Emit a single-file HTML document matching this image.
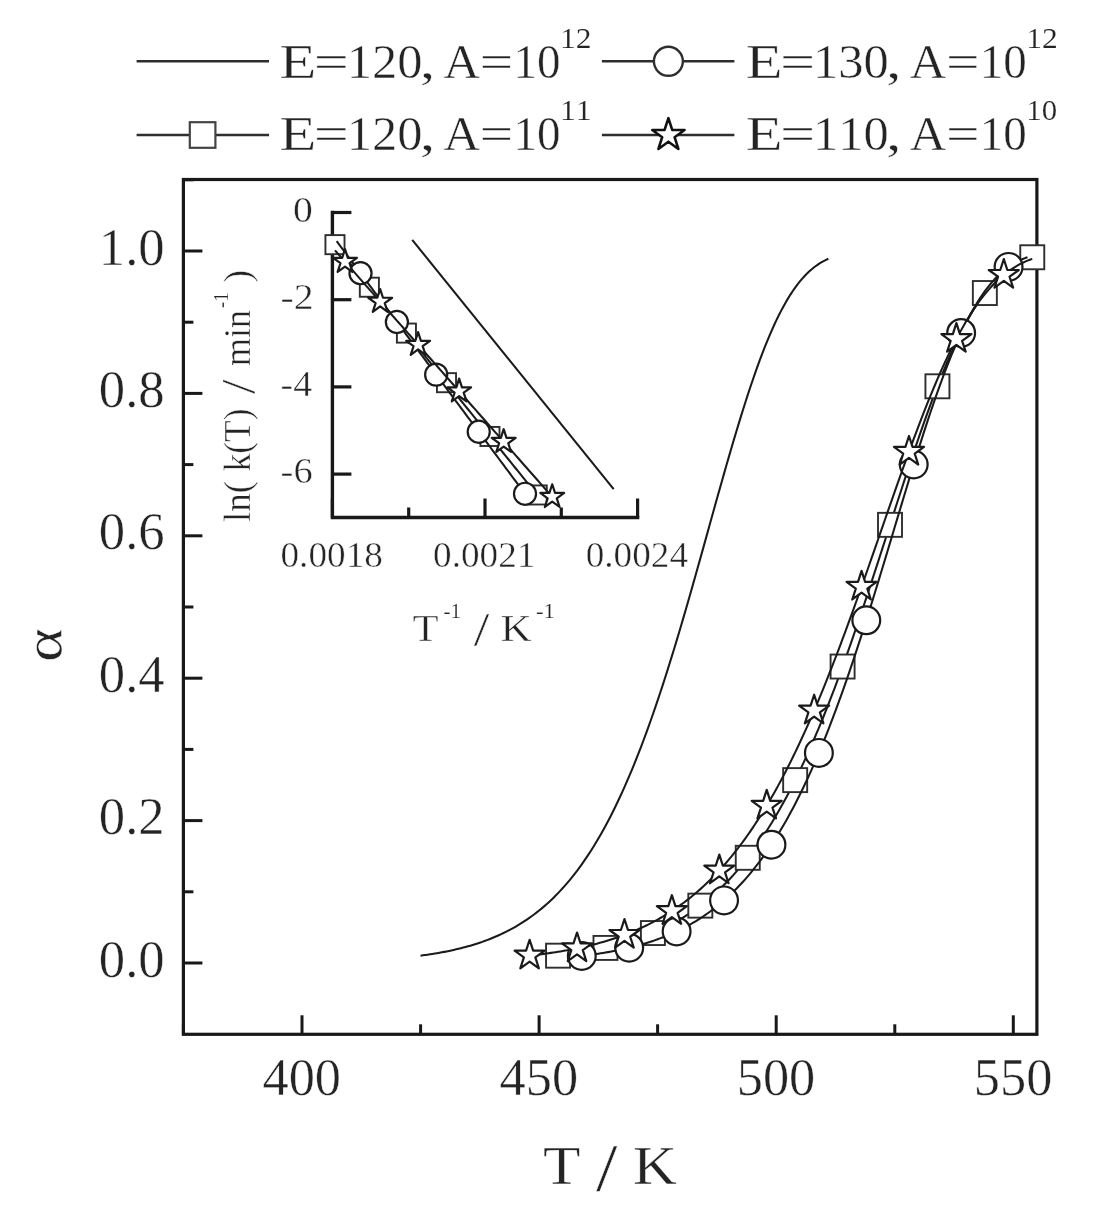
<!DOCTYPE html>
<html><head><meta charset="utf-8"><title>Kinetic curves</title>
<style>html,body{margin:0;padding:0;background:#fff}svg{display:block}</style></head>
<body>
<svg width="1094" height="1216" viewBox="0 0 1094 1216" font-family="Liberation Serif, DejaVu Serif, serif" fill="#242424">
<style>text{stroke:#fff;stroke-width:0.45;paint-order:fill stroke;font-kerning:none}</style>
<rect width="1094" height="1216" fill="#fff"/>
<g stroke="#2e2e2e" stroke-width="2.5">
<line x1="136.6" y1="61.3" x2="269" y2="61.3"/>
<line x1="136.6" y1="135.1" x2="269" y2="135.1"/>
<line x1="601.9" y1="61.3" x2="734.4" y2="61.3"/>
<line x1="601.9" y1="135.1" x2="734.4" y2="135.1"/>
</g>
<rect x="189.8" y="122.2" width="25.6" height="25.6" fill="#fff" stroke="#444" stroke-width="2.2"/>
<circle cx="668.4" cy="61.3" r="14.5" fill="#fff" stroke="#2e2e2e" stroke-width="2.4"/>
<path d="M668.40 118.20 L672.22 129.95 L684.57 129.95 L674.58 137.21 L678.39 148.95 L668.40 141.69 L658.41 148.95 L662.22 137.21 L652.23 129.95 L664.58 129.95Z" fill="#fff" stroke="#111" stroke-width="2.6" stroke-linejoin="round"/>
<text><tspan x="279.25" y="77.70" font-size="48.00" textLength="37.19" lengthAdjust="spacingAndGlyphs">E</tspan><tspan x="313.70" y="77.70" font-size="48.00" textLength="35.15" lengthAdjust="spacingAndGlyphs">=</tspan><tspan x="346.76" y="77.70" font-size="48.00" textLength="75.76" lengthAdjust="spacingAndGlyphs">120</tspan><tspan x="419.68" y="77.70" font-size="48.00" textLength="15.60" lengthAdjust="spacingAndGlyphs">,</tspan> <tspan x="443.41" y="77.70" font-size="48.00" textLength="36.46" lengthAdjust="spacingAndGlyphs">A</tspan><tspan x="479.62" y="77.70" font-size="48.00" textLength="33.69" lengthAdjust="spacingAndGlyphs">=</tspan><tspan x="513.57" y="77.70" font-size="48.00" textLength="47.02" lengthAdjust="spacingAndGlyphs">10</tspan><tspan x="560.03" y="47.50" font-size="28.60" textLength="31.51" lengthAdjust="spacingAndGlyphs" stroke-width="0.15">12</tspan></text>
<text><tspan x="279.25" y="149.80" font-size="48.00" textLength="37.19" lengthAdjust="spacingAndGlyphs">E</tspan><tspan x="313.70" y="149.80" font-size="48.00" textLength="35.15" lengthAdjust="spacingAndGlyphs">=</tspan><tspan x="346.76" y="149.80" font-size="48.00" textLength="75.76" lengthAdjust="spacingAndGlyphs">120</tspan><tspan x="419.68" y="149.80" font-size="48.00" textLength="15.60" lengthAdjust="spacingAndGlyphs">,</tspan> <tspan x="443.41" y="149.80" font-size="48.00" textLength="36.46" lengthAdjust="spacingAndGlyphs">A</tspan><tspan x="479.62" y="149.80" font-size="48.00" textLength="33.69" lengthAdjust="spacingAndGlyphs">=</tspan><tspan x="513.57" y="149.80" font-size="48.00" textLength="47.02" lengthAdjust="spacingAndGlyphs">10</tspan><tspan x="560.01" y="119.60" font-size="28.60" textLength="31.69" lengthAdjust="spacingAndGlyphs" stroke-width="0.15">11</tspan></text>
<text><tspan x="745.55" y="77.70" font-size="48.00" textLength="37.19" lengthAdjust="spacingAndGlyphs">E</tspan><tspan x="780.00" y="77.70" font-size="48.00" textLength="35.15" lengthAdjust="spacingAndGlyphs">=</tspan><tspan x="813.06" y="77.70" font-size="48.00" textLength="75.76" lengthAdjust="spacingAndGlyphs">130</tspan><tspan x="885.98" y="77.70" font-size="48.00" textLength="15.60" lengthAdjust="spacingAndGlyphs">,</tspan> <tspan x="909.71" y="77.70" font-size="48.00" textLength="36.46" lengthAdjust="spacingAndGlyphs">A</tspan><tspan x="945.92" y="77.70" font-size="48.00" textLength="33.69" lengthAdjust="spacingAndGlyphs">=</tspan><tspan x="979.87" y="77.70" font-size="48.00" textLength="47.02" lengthAdjust="spacingAndGlyphs">10</tspan><tspan x="1026.33" y="47.50" font-size="28.60" textLength="31.51" lengthAdjust="spacingAndGlyphs" stroke-width="0.15">12</tspan></text>
<text><tspan x="745.55" y="149.80" font-size="48.00" textLength="37.19" lengthAdjust="spacingAndGlyphs">E</tspan><tspan x="780.00" y="149.80" font-size="48.00" textLength="35.15" lengthAdjust="spacingAndGlyphs">=</tspan><tspan x="813.06" y="149.80" font-size="48.00" textLength="75.76" lengthAdjust="spacingAndGlyphs">110</tspan><tspan x="885.98" y="149.80" font-size="48.00" textLength="15.60" lengthAdjust="spacingAndGlyphs">,</tspan> <tspan x="909.71" y="149.80" font-size="48.00" textLength="36.46" lengthAdjust="spacingAndGlyphs">A</tspan><tspan x="945.92" y="149.80" font-size="48.00" textLength="33.69" lengthAdjust="spacingAndGlyphs">=</tspan><tspan x="979.87" y="149.80" font-size="48.00" textLength="47.02" lengthAdjust="spacingAndGlyphs">10</tspan><tspan x="1026.38" y="119.60" font-size="28.60" textLength="30.89" lengthAdjust="spacingAndGlyphs" stroke-width="0.15">10</tspan></text>
<rect x="183.4" y="179.5" width="853.5" height="854.8" fill="none" stroke="#181818" stroke-width="3.2"/>
<g stroke="#181818" stroke-width="3">
<line x1="183.4" y1="963.0" x2="202.4" y2="963.0"/>
<line x1="183.4" y1="820.6" x2="202.4" y2="820.6"/>
<line x1="183.4" y1="678.2" x2="202.4" y2="678.2"/>
<line x1="183.4" y1="535.8" x2="202.4" y2="535.8"/>
<line x1="183.4" y1="393.4" x2="202.4" y2="393.4"/>
<line x1="183.4" y1="251.0" x2="202.4" y2="251.0"/>
<line x1="183.4" y1="891.8" x2="193.4" y2="891.8"/>
<line x1="183.4" y1="749.4" x2="193.4" y2="749.4"/>
<line x1="183.4" y1="607.0" x2="193.4" y2="607.0"/>
<line x1="183.4" y1="464.6" x2="193.4" y2="464.6"/>
<line x1="183.4" y1="322.2" x2="193.4" y2="322.2"/>
<line x1="183.4" y1="179.8" x2="193.4" y2="179.8"/>
<line x1="302.0" y1="1034.3" x2="302.0" y2="1015.3"/>
<line x1="539.1" y1="1034.3" x2="539.1" y2="1015.3"/>
<line x1="776.2" y1="1034.3" x2="776.2" y2="1015.3"/>
<line x1="1013.3" y1="1034.3" x2="1013.3" y2="1015.3"/>
<line x1="183.4" y1="1034.3" x2="183.4" y2="1024.3"/>
<line x1="420.6" y1="1034.3" x2="420.6" y2="1024.3"/>
<line x1="657.6" y1="1034.3" x2="657.6" y2="1024.3"/>
<line x1="894.8" y1="1034.3" x2="894.8" y2="1024.3"/>
</g>
<text transform="translate(98.79,976.50) scale(0.9950,1)" font-size="53.00">0.0</text>
<text transform="translate(98.79,834.10) scale(0.9950,1)" font-size="53.00">0.2</text>
<text transform="translate(98.79,691.70) scale(0.9950,1)" font-size="53.00">0.4</text>
<text transform="translate(98.79,549.30) scale(0.9950,1)" font-size="53.00">0.6</text>
<text transform="translate(98.79,406.90) scale(0.9950,1)" font-size="53.00">0.8</text>
<text transform="translate(98.79,264.50) scale(0.9950,1)" font-size="53.00">1.0</text>
<text transform="translate(262.48,1094.60) scale(0.9889,1)" font-size="53.00">400</text>
<text transform="translate(499.58,1094.60) scale(0.9889,1)" font-size="53.00">450</text>
<text transform="translate(736.68,1094.60) scale(0.9889,1)" font-size="53.00">500</text>
<text transform="translate(973.78,1094.60) scale(0.9889,1)" font-size="53.00">550</text>
<text><tspan x="542.99" y="1183.60" font-size="55.30" textLength="37.42" lengthAdjust="spacingAndGlyphs">T</tspan> <tspan x="595.90" y="1189.73" font-size="68.32" textLength="21.40" lengthAdjust="spacingAndGlyphs">/</tspan> <tspan x="633.05" y="1183.60" font-size="55.30" textLength="43.87" lengthAdjust="spacingAndGlyphs">K</tspan></text>
<text transform="translate(61.10,661.94) rotate(-90) scale(1.2093,1)" font-size="53.00">α</text>
<polyline fill="none" stroke="#1a1a1a" stroke-width="2.05" stroke-linejoin="round" points="420.55,955.66 422.92,955.34 425.29,955.01 427.66,954.67 430.03,954.32 432.40,953.95 434.78,953.57 437.15,953.17 439.52,952.75 441.89,952.32 444.26,951.88 446.63,951.41 449.00,950.93 451.37,950.43 453.74,949.91 456.12,949.36 458.49,948.80 460.86,948.22 463.23,947.61 465.60,946.98 467.97,946.33 470.34,945.65 472.71,944.95 475.08,944.22 477.45,943.46 479.82,942.67 482.20,941.86 484.57,941.01 486.94,940.14 489.31,939.23 491.68,938.29 494.05,937.31 496.42,936.30 498.79,935.25 501.16,934.16 503.53,933.04 505.91,931.87 508.28,930.66 510.65,929.41 513.02,928.12 515.39,926.78 517.76,925.39 520.13,923.95 522.50,922.47 524.87,920.93 527.25,919.34 529.62,917.70 531.99,916.00 534.36,914.24 536.73,912.42 539.10,910.54 541.47,908.60 543.84,906.60 546.21,904.53 548.58,902.39 550.96,900.18 553.33,897.90 555.70,895.55 558.07,893.12 560.44,890.62 562.81,888.04 565.18,885.37 567.55,882.63 569.92,879.80 572.29,876.88 574.66,873.87 577.04,870.78 579.41,867.59 581.78,864.31 584.15,860.93 586.52,857.45 588.89,853.88 591.26,850.20 593.63,846.42 596.00,842.53 598.38,838.54 600.75,834.44 603.12,830.22 605.49,825.90 607.86,821.46 610.23,816.91 612.60,812.24 614.97,807.45 617.34,802.54 619.71,797.52 622.09,792.37 624.46,787.10 626.83,781.71 629.20,776.20 631.57,770.56 633.94,764.79 636.31,758.91 638.68,752.89 641.05,746.76 643.42,740.50 645.80,734.11 648.17,727.61 650.54,720.98 652.91,714.23 655.28,707.37 657.65,700.39 660.02,693.29 662.39,686.08 664.76,678.76 667.13,671.33 669.50,663.80 671.88,656.16 674.25,648.43 676.62,640.61 678.99,632.70 681.36,624.70 683.73,616.63 686.10,608.48 688.47,600.26 690.84,591.98 693.21,583.65 695.59,575.27 697.96,566.84 700.33,558.38 702.70,549.89 705.07,541.38 707.44,532.86 709.81,524.34 712.18,515.82 714.55,507.32 716.92,498.84 719.30,490.39 721.67,481.98 724.04,473.63 726.41,465.33 728.78,457.10 731.15,448.95 733.52,440.89 735.89,432.93 738.26,425.08 740.63,417.34 743.01,409.73 745.38,402.25 747.75,394.92 750.12,387.74 752.49,380.71 754.86,373.86 757.23,367.17 759.60,360.67 761.97,354.36 764.35,348.23 766.72,342.31 769.09,336.59 771.46,331.07 773.83,325.76 776.20,320.66 778.57,315.78 780.94,311.11 783.31,306.66 785.68,302.42 788.06,298.39 790.43,294.58 792.80,290.97 795.17,287.58 797.54,284.38 799.91,281.39 802.28,278.59 804.65,275.97 807.02,273.54 809.39,271.29 811.76,269.21 814.14,267.29 816.51,265.53 818.88,263.92 821.25,262.44 823.62,261.10 825.99,259.89 828.36,258.79"/>
<polyline fill="none" stroke="#1a1a1a" stroke-width="2.05" stroke-linejoin="round" points="558.07,955.68 560.44,955.41 562.81,955.12 565.18,954.83 567.55,954.52 569.92,954.21 572.29,953.88 574.66,953.54 577.04,953.19 579.41,952.83 581.78,952.45 584.15,952.07 586.52,951.67 588.89,951.25 591.26,950.82 593.63,950.38 596.00,949.92 598.38,949.45 600.75,948.96 603.12,948.46 605.49,947.93 607.86,947.39 610.23,946.84 612.60,946.26 614.97,945.66 617.34,945.05 619.71,944.41 622.09,943.76 624.46,943.08 626.83,942.38 629.20,941.66 631.57,940.91 633.94,940.15 636.31,939.35 638.68,938.53 641.05,937.69 643.42,936.82 645.80,935.92 648.17,934.99 650.54,934.03 652.91,933.04 655.28,932.03 657.65,930.98 660.02,929.89 662.39,928.78 664.76,927.63 667.13,926.45 669.50,925.23 671.88,923.97 674.25,922.67 676.62,921.34 678.99,919.97 681.36,918.55 683.73,917.09 686.10,915.60 688.47,914.05 690.84,912.46 693.21,910.83 695.59,909.15 697.96,907.42 700.33,905.64 702.70,903.81 705.07,901.92 707.44,899.99 709.81,898.00 712.18,895.95 714.55,893.85 716.92,891.69 719.30,889.47 721.67,887.19 724.04,884.85 726.41,882.45 728.78,879.98 731.15,877.45 733.52,874.85 735.89,872.19 738.26,869.45 740.63,866.65 743.01,863.77 745.38,860.82 747.75,857.80 750.12,854.70 752.49,851.52 754.86,848.27 757.23,844.94 759.60,841.53 761.97,838.04 764.35,834.46 766.72,830.81 769.09,827.07 771.46,823.24 773.83,819.33 776.20,815.33 778.57,811.24 780.94,807.07 783.31,802.80 785.68,798.45 788.06,794.00 790.43,789.47 792.80,784.84 795.17,780.12 797.54,775.30 799.91,770.40 802.28,765.40 804.65,760.31 807.02,755.12 809.39,749.84 811.76,744.47 814.14,739.01 816.51,733.45 818.88,727.81 821.25,722.07 823.62,716.24 825.99,710.33 828.36,704.32 830.73,698.23 833.10,692.06 835.48,685.80 837.85,679.46 840.22,673.04 842.59,666.54 844.96,659.96 847.33,653.32 849.70,646.60 852.07,639.81 854.44,632.96 856.81,626.04 859.18,619.07 861.56,612.04 863.93,604.96 866.30,597.83 868.67,590.66 871.04,583.44 873.41,576.19 875.78,568.91 878.15,561.61 880.52,554.28 882.89,546.93 885.27,539.57 887.64,532.21 890.01,524.84 892.38,517.48 894.75,510.13 897.12,502.80 899.49,495.48 901.86,488.20 904.23,480.94 906.61,473.73 908.98,466.56 911.35,459.45 913.72,452.39 916.09,445.39 918.46,438.47 920.83,431.62 923.20,424.86 925.57,418.18 927.94,411.59 930.32,405.11 932.69,398.73 935.06,392.46 937.43,386.30 939.80,380.27 942.17,374.36 944.54,368.58 946.91,362.93 949.28,357.42 951.65,352.05 954.02,346.83 956.40,341.76 958.77,336.83 961.14,332.06 963.51,327.45 965.88,322.99 968.25,318.69 970.62,314.54 972.99,310.56 975.36,306.74 977.74,303.07 980.11,299.57 982.48,296.22 984.85,293.03 987.22,290.00 989.59,287.11 991.96,284.38 994.33,281.79 996.70,279.35 999.07,277.05 1001.45,274.89 1003.82,272.85 1006.19,270.95 1008.56,269.18 1010.93,267.52 1013.30,265.98 1015.67,264.56 1018.04,263.24 1020.41,262.02 1022.78,260.89 1025.15,259.86 1027.53,258.92 1029.90,258.05 1032.27,257.27"/>
<rect x="546.07" y="943.68" width="24.00" height="24.00" fill="#fff" stroke="#2e2e2e" stroke-width="1.9"/>
<rect x="593.49" y="935.93" width="24.00" height="24.00" fill="#fff" stroke="#2e2e2e" stroke-width="1.9"/>
<rect x="640.91" y="921.04" width="24.00" height="24.00" fill="#fff" stroke="#2e2e2e" stroke-width="1.9"/>
<rect x="688.33" y="893.64" width="24.00" height="24.00" fill="#fff" stroke="#2e2e2e" stroke-width="1.9"/>
<rect x="735.75" y="845.80" width="24.00" height="24.00" fill="#fff" stroke="#2e2e2e" stroke-width="1.9"/>
<rect x="783.17" y="768.12" width="24.00" height="24.00" fill="#fff" stroke="#2e2e2e" stroke-width="1.9"/>
<rect x="830.59" y="654.54" width="24.00" height="24.00" fill="#fff" stroke="#2e2e2e" stroke-width="1.9"/>
<rect x="878.01" y="512.84" width="24.00" height="24.00" fill="#fff" stroke="#2e2e2e" stroke-width="1.9"/>
<rect x="925.43" y="374.30" width="24.00" height="24.00" fill="#fff" stroke="#2e2e2e" stroke-width="1.9"/>
<rect x="972.85" y="281.03" width="24.00" height="24.00" fill="#fff" stroke="#2e2e2e" stroke-width="1.9"/>
<rect x="1020.27" y="245.27" width="24.00" height="24.00" fill="#fff" stroke="#2e2e2e" stroke-width="1.9"/>
<polyline fill="none" stroke="#1a1a1a" stroke-width="2.05" stroke-linejoin="round" points="581.78,955.88 584.15,955.59 586.52,955.30 588.89,955.00 591.26,954.68 593.63,954.35 596.00,954.01 598.38,953.66 600.75,953.29 603.12,952.91 605.49,952.52 607.86,952.12 610.23,951.69 612.60,951.26 614.97,950.80 617.34,950.33 619.71,949.85 622.09,949.35 624.46,948.82 626.83,948.29 629.20,947.73 631.57,947.15 633.94,946.55 636.31,945.93 638.68,945.29 641.05,944.62 643.42,943.94 645.80,943.22 648.17,942.49 650.54,941.73 652.91,940.94 655.28,940.13 657.65,939.28 660.02,938.41 662.39,937.51 664.76,936.58 667.13,935.62 669.50,934.63 671.88,933.60 674.25,932.54 676.62,931.44 678.99,930.31 681.36,929.14 683.73,927.93 686.10,926.69 688.47,925.40 690.84,924.07 693.21,922.70 695.59,921.28 697.96,919.82 700.33,918.31 702.70,916.76 705.07,915.15 707.44,913.50 709.81,911.79 712.18,910.03 714.55,908.22 716.92,906.35 719.30,904.43 721.67,902.44 724.04,900.40 726.41,898.29 728.78,896.13 731.15,893.90 733.52,891.60 735.89,889.24 738.26,886.80 740.63,884.30 743.01,881.72 745.38,879.08 747.75,876.35 750.12,873.56 752.49,870.68 754.86,867.72 757.23,864.69 759.60,861.57 761.97,858.36 764.35,855.07 766.72,851.70 769.09,848.23 771.46,844.68 773.83,841.03 776.20,837.30 778.57,833.46 780.94,829.54 783.31,825.51 785.68,821.39 788.06,817.17 790.43,812.85 792.80,808.43 795.17,803.91 797.54,799.28 799.91,794.55 802.28,789.71 804.65,784.77 807.02,779.73 809.39,774.57 811.76,769.31 814.14,763.95 816.51,758.48 818.88,752.90 821.25,747.21 823.62,741.42 825.99,735.52 828.36,729.51 830.73,723.40 833.10,717.19 835.48,710.87 837.85,704.45 840.22,697.94 842.59,691.32 844.96,684.61 847.33,677.80 849.70,670.90 852.07,663.91 854.44,656.84 856.81,649.68 859.18,642.44 861.56,635.12 863.93,627.73 866.30,620.27 868.67,612.75 871.04,605.16 873.41,597.51 875.78,589.82 878.15,582.08 880.52,574.30 882.89,566.48 885.27,558.63 887.64,550.76 890.01,542.87 892.38,534.97 894.75,527.06 897.12,519.16 899.49,511.26 901.86,503.38 904.23,495.53 906.61,487.70 908.98,479.91 911.35,472.17 913.72,464.49 916.09,456.86 918.46,449.30 920.83,441.82 923.20,434.42 925.57,427.11 927.94,419.90 930.32,412.79 932.69,405.80 935.06,398.93 937.43,392.18 939.80,385.57 942.17,379.09 944.54,372.76 946.91,366.58 949.28,360.56 951.65,354.70 954.02,349.00 956.40,343.48 958.77,338.12 961.14,332.94 963.51,327.95 965.88,323.13 968.25,318.49 970.62,314.04 972.99,309.78 975.36,305.70 977.74,301.80 980.11,298.09 982.48,294.56 984.85,291.21 987.22,288.04 989.59,285.04 991.96,282.22 994.33,279.56 996.70,277.07 999.07,274.74 1001.45,272.56 1003.82,270.53 1006.19,268.65 1008.56,266.91 1010.93,265.30 1013.30,263.81 1015.67,262.45 1018.04,261.20 1020.41,260.06 1022.78,259.03 1025.15,258.09 1027.53,257.24"/>
<circle cx="581.78" cy="955.88" r="13.90" fill="#fff" stroke="#1a1a1a" stroke-width="2.2"/>
<circle cx="629.20" cy="947.73" r="13.90" fill="#fff" stroke="#1a1a1a" stroke-width="2.2"/>
<circle cx="676.62" cy="931.44" r="13.90" fill="#fff" stroke="#1a1a1a" stroke-width="2.2"/>
<circle cx="724.04" cy="900.40" r="13.90" fill="#fff" stroke="#1a1a1a" stroke-width="2.2"/>
<circle cx="771.46" cy="844.68" r="13.90" fill="#fff" stroke="#1a1a1a" stroke-width="2.2"/>
<circle cx="818.88" cy="752.90" r="13.90" fill="#fff" stroke="#1a1a1a" stroke-width="2.2"/>
<circle cx="866.30" cy="620.27" r="13.90" fill="#fff" stroke="#1a1a1a" stroke-width="2.2"/>
<circle cx="913.72" cy="464.49" r="13.90" fill="#fff" stroke="#1a1a1a" stroke-width="2.2"/>
<circle cx="961.14" cy="332.94" r="13.90" fill="#fff" stroke="#1a1a1a" stroke-width="2.2"/>
<circle cx="1008.56" cy="266.91" r="13.90" fill="#fff" stroke="#1a1a1a" stroke-width="2.2"/>
<polyline fill="none" stroke="#1a1a1a" stroke-width="2.05" stroke-linejoin="round" points="529.62,955.58 531.99,955.32 534.36,955.05 536.73,954.77 539.10,954.48 541.47,954.18 543.84,953.87 546.21,953.55 548.58,953.22 550.96,952.87 553.33,952.52 555.70,952.16 558.07,951.78 560.44,951.40 562.81,951.00 565.18,950.59 567.55,950.16 569.92,949.72 572.29,949.27 574.66,948.80 577.04,948.32 579.41,947.82 581.78,947.31 584.15,946.78 586.52,946.24 588.89,945.68 591.26,945.10 593.63,944.50 596.00,943.89 598.38,943.25 600.75,942.60 603.12,941.93 605.49,941.23 607.86,940.52 610.23,939.78 612.60,939.03 614.97,938.25 617.34,937.44 619.71,936.61 622.09,935.76 624.46,934.89 626.83,933.98 629.20,933.05 631.57,932.10 633.94,931.11 636.31,930.10 638.68,929.06 641.05,927.99 643.42,926.89 645.80,925.75 648.17,924.59 650.54,923.39 652.91,922.16 655.28,920.89 657.65,919.59 660.02,918.25 662.39,916.88 664.76,915.47 667.13,914.02 669.50,912.53 671.88,910.99 674.25,909.42 676.62,907.81 678.99,906.15 681.36,904.45 683.73,902.70 686.10,900.91 688.47,899.07 690.84,897.18 693.21,895.25 695.59,893.26 697.96,891.22 700.33,889.14 702.70,887.00 705.07,884.80 707.44,882.55 709.81,880.25 712.18,877.88 714.55,875.46 716.92,872.99 719.30,870.45 721.67,867.85 724.04,865.19 726.41,862.47 728.78,859.68 731.15,856.83 733.52,853.91 735.89,850.93 738.26,847.87 740.63,844.75 743.01,841.57 745.38,838.31 747.75,834.98 750.12,831.57 752.49,828.10 754.86,824.55 757.23,820.93 759.60,817.23 761.97,813.46 764.35,809.61 766.72,805.68 769.09,801.68 771.46,797.60 773.83,793.44 776.20,789.20 778.57,784.88 780.94,780.48 783.31,776.00 785.68,771.44 788.06,766.81 790.43,762.09 792.80,757.29 795.17,752.41 797.54,747.45 799.91,742.42 802.28,737.30 804.65,732.10 807.02,726.83 809.39,721.48 811.76,716.05 814.14,710.54 816.51,704.96 818.88,699.31 821.25,693.58 823.62,687.78 825.99,681.91 828.36,675.97 830.73,669.96 833.10,663.89 835.48,657.75 837.85,651.55 840.22,645.30 842.59,638.98 844.96,632.61 847.33,626.18 849.70,619.71 852.07,613.19 854.44,606.62 856.81,600.02 859.18,593.37 861.56,586.69 863.93,579.98 866.30,573.24 868.67,566.48 871.04,559.69 873.41,552.89 875.78,546.08 878.15,539.25 880.52,532.43 882.89,525.60 885.27,518.78 887.64,511.96 890.01,505.16 892.38,498.38 894.75,491.61 897.12,484.88 899.49,478.18 901.86,471.51 904.23,464.89 906.61,458.31 908.98,451.79 911.35,445.32 913.72,438.91 916.09,432.56 918.46,426.29 920.83,420.09 923.20,413.97 925.57,407.94 927.94,401.99 930.32,396.14 932.69,390.38 935.06,384.73 937.43,379.17 939.80,373.73 942.17,368.40 944.54,363.18 946.91,358.08 949.28,353.11 951.65,348.25 954.02,343.52 956.40,338.92 958.77,334.45 961.14,330.12 963.51,325.91 965.88,321.84 968.25,317.91 970.62,314.11 972.99,310.45 975.36,306.92 977.74,303.53 980.11,300.27 982.48,297.15 984.85,294.17 987.22,291.31 989.59,288.59 991.96,285.99 994.33,283.52 996.70,281.18 999.07,278.96 1001.45,276.86 1003.82,274.87 1006.19,273.00 1008.56,271.23 1010.93,269.58 1013.30,268.03 1015.67,266.57 1018.04,265.22 1020.41,263.95 1022.78,262.77 1025.15,261.68 1027.53,260.67 1029.90,259.74 1032.27,258.88"/>
<path d="M529.62 939.78 L533.16 950.70 L544.64 950.70 L535.36 957.45 L538.90 968.37 L529.62 961.62 L520.33 968.37 L523.88 957.45 L514.59 950.70 L526.07 950.70Z" fill="#fff" stroke="#1a1a1a" stroke-width="2.2" stroke-linejoin="round"/>
<path d="M577.04 932.52 L580.58 943.44 L592.06 943.44 L582.78 950.18 L586.32 961.10 L577.04 954.35 L567.75 961.10 L571.30 950.18 L562.01 943.44 L573.49 943.44Z" fill="#fff" stroke="#1a1a1a" stroke-width="2.2" stroke-linejoin="round"/>
<path d="M624.46 919.09 L628.00 930.00 L639.48 930.00 L630.20 936.75 L633.74 947.67 L624.46 940.92 L615.17 947.67 L618.72 936.75 L609.43 930.00 L620.91 930.00Z" fill="#fff" stroke="#1a1a1a" stroke-width="2.2" stroke-linejoin="round"/>
<path d="M671.88 895.19 L675.42 906.11 L686.90 906.11 L677.62 912.86 L681.16 923.78 L671.88 917.03 L662.59 923.78 L666.14 912.86 L656.85 906.11 L668.33 906.11Z" fill="#fff" stroke="#1a1a1a" stroke-width="2.2" stroke-linejoin="round"/>
<path d="M719.30 854.65 L722.84 865.57 L734.32 865.57 L725.04 872.31 L728.58 883.23 L719.30 876.48 L710.01 883.23 L713.56 872.31 L704.27 865.57 L715.75 865.57Z" fill="#fff" stroke="#1a1a1a" stroke-width="2.2" stroke-linejoin="round"/>
<path d="M766.72 789.88 L770.26 800.80 L781.74 800.80 L772.46 807.55 L776.00 818.46 L766.72 811.72 L757.43 818.46 L760.98 807.55 L751.69 800.80 L763.17 800.80Z" fill="#fff" stroke="#1a1a1a" stroke-width="2.2" stroke-linejoin="round"/>
<path d="M814.14 694.74 L817.68 705.66 L829.16 705.66 L819.88 712.41 L823.42 723.32 L814.14 716.58 L804.85 723.32 L808.40 712.41 L799.11 705.66 L810.59 705.66Z" fill="#fff" stroke="#1a1a1a" stroke-width="2.2" stroke-linejoin="round"/>
<path d="M861.56 570.89 L865.10 581.81 L876.58 581.81 L867.30 588.56 L870.84 599.48 L861.56 592.73 L852.27 599.48 L855.82 588.56 L846.53 581.81 L858.01 581.81Z" fill="#fff" stroke="#1a1a1a" stroke-width="2.2" stroke-linejoin="round"/>
<path d="M908.98 435.99 L912.52 446.90 L924.00 446.90 L914.72 453.65 L918.26 464.57 L908.98 457.82 L899.69 464.57 L903.24 453.65 L893.95 446.90 L905.43 446.90Z" fill="#fff" stroke="#1a1a1a" stroke-width="2.2" stroke-linejoin="round"/>
<path d="M956.40 323.12 L959.94 334.04 L971.42 334.04 L962.14 340.79 L965.68 351.71 L956.40 344.96 L947.11 351.71 L950.66 340.79 L941.37 334.04 L952.85 334.04Z" fill="#fff" stroke="#1a1a1a" stroke-width="2.2" stroke-linejoin="round"/>
<path d="M1003.82 259.07 L1007.36 269.99 L1018.84 269.99 L1009.56 276.73 L1013.10 287.65 L1003.82 280.91 L994.53 287.65 L998.08 276.73 L988.79 269.99 L1000.27 269.99Z" fill="#fff" stroke="#1a1a1a" stroke-width="2.2" stroke-linejoin="round"/>
<g stroke="#181818" stroke-width="3.4" fill="none">
<polyline points="332.4,210.8 332.4,517.5 639.3,517.5"/>
</g><g stroke="#181818" stroke-width="3.2">
<line x1="332.4" y1="212.5" x2="351.4" y2="212.5"/>
<line x1="332.4" y1="299.7" x2="351.4" y2="299.7"/>
<line x1="332.4" y1="386.9" x2="351.4" y2="386.9"/>
<line x1="332.4" y1="474.1" x2="351.4" y2="474.1"/>
<line x1="332.4" y1="517.5" x2="332.4" y2="498.5"/>
<line x1="408.7" y1="517.5" x2="408.7" y2="507.5"/>
<line x1="485.0" y1="517.5" x2="485.0" y2="498.5"/>
<line x1="561.3" y1="517.5" x2="561.3" y2="507.5"/>
<line x1="637.6" y1="517.5" x2="637.6" y2="498.5"/>
</g>
<text transform="translate(292.89,221.50) scale(1.1011,1)" font-size="36.00">0</text>
<text transform="translate(280.52,308.70) scale(1.1063,1)" font-size="36.00">-2</text>
<text transform="translate(280.60,395.90) scale(1.0502,1)" font-size="36.00">-4</text>
<text transform="translate(280.57,483.10) scale(1.0696,1)" font-size="36.00">-6</text>
<text transform="translate(280.48,566.80) scale(1.0347,1)" font-size="36.00">0.0018</text>
<text transform="translate(433.08,566.80) scale(1.0347,1)" font-size="36.00">0.0021</text>
<text transform="translate(585.68,566.80) scale(1.0347,1)" font-size="36.00">0.0024</text>
<text><tspan x="412.43" y="640.80" font-size="37.30" textLength="26.08" lengthAdjust="spacingAndGlyphs">T</tspan><tspan x="443.52" y="618.30" font-size="21.00" textLength="17.55" lengthAdjust="spacingAndGlyphs" stroke-width="0.15">-1</tspan> <tspan x="473.80" y="645.52" font-size="48.88" textLength="15.60" lengthAdjust="spacingAndGlyphs">/</tspan> <tspan x="500.56" y="640.80" font-size="37.30" textLength="31.19" lengthAdjust="spacingAndGlyphs">K</tspan><tspan x="535.96" y="618.30" font-size="21.00" textLength="18.91" lengthAdjust="spacingAndGlyphs" stroke-width="0.15">-1</tspan></text>
<text transform="translate(249.8,530) rotate(-90)"><tspan x="8.06" y="0.00" font-size="38.00" textLength="41.03" lengthAdjust="spacingAndGlyphs">ln(</tspan> <tspan x="58.73" y="0.00" font-size="38.00" textLength="62.72" lengthAdjust="spacingAndGlyphs">k(T)</tspan> <tspan x="135.90" y="4.72" font-size="49.48" textLength="14.40" lengthAdjust="spacingAndGlyphs">/</tspan> <tspan x="163.94" y="0.00" font-size="38.00" textLength="56.00" lengthAdjust="spacingAndGlyphs">min</tspan><tspan x="222.10" y="-21.50" font-size="21.00" textLength="15.62" lengthAdjust="spacingAndGlyphs" stroke-width="0.15">-1</tspan> <tspan x="247.47" y="0.00" font-size="38.00" textLength="12.71" lengthAdjust="spacingAndGlyphs">)</tspan></text>
<polyline fill="none" stroke="#1a1a1a" stroke-width="2.05" stroke-linejoin="round" points="412.23,239.89 613.66,489.21"/>
<polyline fill="none" stroke="#1a1a1a" stroke-width="2.05" stroke-linejoin="round" points="537.21,494.97 534.75,491.92 532.30,488.89 529.86,485.87 527.43,482.86 525.01,479.86 522.60,476.88 520.20,473.91 517.81,470.96 515.43,468.01 513.06,465.08 510.71,462.16 508.36,459.26 506.02,456.37 503.69,453.49 501.38,450.62 499.07,447.76 496.77,444.92 494.48,442.08 492.21,439.26 489.94,436.46 487.68,433.66 485.43,430.88 483.19,428.10 480.96,425.34 478.73,422.59 476.52,419.85 474.32,417.13 472.13,414.41 469.94,411.71 467.76,409.01 465.60,406.33 463.44,403.66 461.29,401.00 459.15,398.35 457.02,395.71 454.90,393.08 452.78,390.47 450.68,387.86 448.58,385.27 446.49,382.68 444.41,380.11 442.34,377.54 440.27,374.99 438.22,372.44 436.17,369.91 434.13,367.39 432.10,364.87 430.08,362.37 428.07,359.88 426.06,357.39 424.06,354.92 422.07,352.45 420.09,350.00 418.11,347.56 416.15,345.12 414.19,342.70 412.23,340.28 410.29,337.87 408.35,335.48 406.42,333.09 404.50,330.71 402.59,328.34 400.68,325.98 398.78,323.63 396.89,321.29 395.01,318.95 393.13,316.63 391.26,314.32 389.39,312.01 387.54,309.71 385.69,307.42 383.85,305.14 382.01,302.87 380.18,300.61 378.36,298.36 376.55,296.11 374.74,293.87 372.94,291.64 371.15,289.42 369.36,287.21 367.58,285.01 365.80,282.81 364.04,280.63 362.28,278.45 360.52,276.27 358.78,274.11 357.03,271.96 355.30,269.81 353.57,267.67 351.85,265.54 350.13,263.41 348.42,261.30 346.72,259.19 345.02,257.09 343.33,255.00 341.65,252.91 339.97,250.84 338.30,248.77 336.63,246.70 334.97,244.65"/>
<rect x="527.67" y="485.43" width="19.08" height="19.08" fill="#fff" stroke="#2e2e2e" stroke-width="1.9"/>
<rect x="480.40" y="426.92" width="19.08" height="19.08" fill="#fff" stroke="#2e2e2e" stroke-width="1.9"/>
<rect x="436.95" y="373.14" width="19.08" height="19.08" fill="#fff" stroke="#2e2e2e" stroke-width="1.9"/>
<rect x="396.88" y="323.55" width="19.08" height="19.08" fill="#fff" stroke="#2e2e2e" stroke-width="1.9"/>
<rect x="359.82" y="277.67" width="19.08" height="19.08" fill="#fff" stroke="#2e2e2e" stroke-width="1.9"/>
<rect x="325.43" y="235.11" width="19.08" height="19.08" fill="#fff" stroke="#2e2e2e" stroke-width="1.9"/>
<polyline fill="none" stroke="#1a1a1a" stroke-width="2.05" stroke-linejoin="round" points="525.01,493.78 522.60,490.55 520.20,487.33 517.81,484.13 515.43,480.94 513.06,477.77 510.71,474.60 508.36,471.46 506.02,468.32 503.69,465.20 501.38,462.09 499.07,459.00 496.77,455.92 494.48,452.85 492.21,449.80 489.94,446.75 487.68,443.72 485.43,440.71 483.19,437.70 480.96,434.71 478.73,431.73 476.52,428.77 474.32,425.81 472.13,422.87 469.94,419.94 467.76,417.02 465.60,414.12 463.44,411.22 461.29,408.34 459.15,405.47 457.02,402.61 454.90,399.77 452.78,396.93 450.68,394.11 448.58,391.30 446.49,388.50 444.41,385.71 442.34,382.93 440.27,380.16 438.22,377.41 436.17,374.66 434.13,371.93 432.10,369.20 430.08,366.49 428.07,363.79 426.06,361.10 424.06,358.42 422.07,355.75 420.09,353.09 418.11,350.44 416.15,347.81 414.19,345.18 412.23,342.56 410.29,339.96 408.35,337.36 406.42,334.77 404.50,332.19 402.59,329.63 400.68,327.07 398.78,324.52 396.89,321.99 395.01,319.46 393.13,316.94 391.26,314.43 389.39,311.94 387.54,309.45 385.69,306.97 383.85,304.50 382.01,302.04 380.18,299.59 378.36,297.14 376.55,294.71 374.74,292.29 372.94,289.87 371.15,287.47 369.36,285.07 367.58,282.68 365.80,280.31 364.04,277.94 362.28,275.58 360.52,273.22 358.78,270.88 357.03,268.54 355.30,266.22 353.57,263.90 351.85,261.59 350.13,259.29 348.42,257.00 346.72,254.72 345.02,252.44 343.33,250.17 341.65,247.91 339.97,245.66 338.30,243.42 336.63,241.19"/>
<circle cx="525.01" cy="493.78" r="11.05" fill="#fff" stroke="#1a1a1a" stroke-width="2.2"/>
<circle cx="478.73" cy="431.73" r="11.05" fill="#fff" stroke="#1a1a1a" stroke-width="2.2"/>
<circle cx="436.17" cy="374.66" r="11.05" fill="#fff" stroke="#1a1a1a" stroke-width="2.2"/>
<circle cx="396.89" cy="321.99" r="11.05" fill="#fff" stroke="#1a1a1a" stroke-width="2.2"/>
<circle cx="360.52" cy="273.22" r="11.05" fill="#fff" stroke="#1a1a1a" stroke-width="2.2"/>
<polyline fill="none" stroke="#1a1a1a" stroke-width="2.05" stroke-linejoin="round" points="552.22,496.82 549.69,493.95 547.17,491.10 544.66,488.25 542.17,485.42 539.68,482.60 537.21,479.80 534.75,477.00 532.30,474.22 529.86,471.45 527.43,468.70 525.01,465.95 522.60,463.22 520.20,460.49 517.81,457.78 515.43,455.09 513.06,452.40 510.71,449.73 508.36,447.06 506.02,444.41 503.69,441.77 501.38,439.14 499.07,436.52 496.77,433.91 494.48,431.32 492.21,428.73 489.94,426.16 487.68,423.60 485.43,421.04 483.19,418.50 480.96,415.97 478.73,413.45 476.52,410.94 474.32,408.44 472.13,405.95 469.94,403.47 467.76,401.00 465.60,398.54 463.44,396.10 461.29,393.66 459.15,391.23 457.02,388.81 454.90,386.40 452.78,384.00 450.68,381.61 448.58,379.23 446.49,376.86 444.41,374.50 442.34,372.15 440.27,369.81 438.22,367.48 436.17,365.16 434.13,362.84 432.10,360.54 430.08,358.25 428.07,355.96 426.06,353.68 424.06,351.42 422.07,349.16 420.09,346.91 418.11,344.67 416.15,342.44 414.19,340.21 412.23,338.00 410.29,335.79 408.35,333.59 406.42,331.41 404.50,329.23 402.59,327.05 400.68,324.89 398.78,322.74 396.89,320.59 395.01,318.45 393.13,316.32 391.26,314.20 389.39,312.08 387.54,309.98 385.69,307.88 383.85,305.79 382.01,303.71 380.18,301.63 378.36,299.57 376.55,297.51 374.74,295.46 372.94,293.41 371.15,291.38 369.36,289.35 367.58,287.33 365.80,285.32 364.04,283.31 362.28,281.32 360.52,279.33 358.78,277.34 357.03,275.37 355.30,273.40 353.57,271.44 351.85,269.48 350.13,267.54 348.42,265.60 346.72,263.67 345.02,261.74 343.33,259.82 341.65,257.91 339.97,256.01 338.30,254.11 336.63,252.22 334.97,250.33"/>
<path d="M552.22 484.26 L555.04 492.94 L564.16 492.94 L556.78 498.31 L559.60 506.98 L552.22 501.62 L544.83 506.98 L547.65 498.31 L540.27 492.94 L549.40 492.94Z" fill="#fff" stroke="#1a1a1a" stroke-width="2.2" stroke-linejoin="round"/>
<path d="M503.69 429.21 L506.51 437.89 L515.64 437.89 L508.26 443.25 L511.08 451.93 L503.69 446.57 L496.31 451.93 L499.13 443.25 L491.75 437.89 L500.87 437.89Z" fill="#fff" stroke="#1a1a1a" stroke-width="2.2" stroke-linejoin="round"/>
<path d="M459.15 378.67 L461.97 387.35 L471.10 387.35 L463.71 392.71 L466.53 401.39 L459.15 396.03 L451.77 401.39 L454.59 392.71 L447.20 387.35 L456.33 387.35Z" fill="#fff" stroke="#1a1a1a" stroke-width="2.2" stroke-linejoin="round"/>
<path d="M418.11 332.11 L420.93 340.79 L430.06 340.79 L422.68 346.15 L425.50 354.83 L418.11 349.47 L410.73 354.83 L413.55 346.15 L406.17 340.79 L415.29 340.79Z" fill="#fff" stroke="#1a1a1a" stroke-width="2.2" stroke-linejoin="round"/>
<path d="M380.18 289.07 L383.00 297.75 L392.13 297.75 L384.75 303.12 L387.57 311.80 L380.18 306.43 L372.80 311.80 L375.62 303.12 L368.24 297.75 L377.36 297.75Z" fill="#fff" stroke="#1a1a1a" stroke-width="2.2" stroke-linejoin="round"/>
<path d="M345.02 249.18 L347.84 257.86 L356.97 257.86 L349.59 263.22 L352.41 271.90 L345.02 266.54 L337.64 271.90 L340.46 263.22 L333.08 257.86 L342.20 257.86Z" fill="#fff" stroke="#1a1a1a" stroke-width="2.2" stroke-linejoin="round"/>
</svg>
</body></html>
